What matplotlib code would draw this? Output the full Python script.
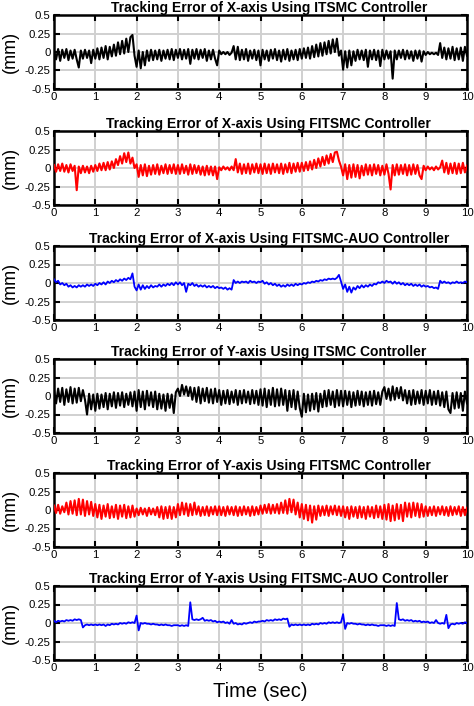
import numpy as np
import matplotlib
matplotlib.use("Agg")
import matplotlib.pyplot as plt

plt.rcParams['font.family'] = ['Liberation Sans', 'DejaVu Sans']

# time base: 0 .. 10 s, step 0.05 s
t = np.linspace(0, 10, 201)

titles = [
    "Tracking Error of X-axis Using ITSMC Controller",
    "Tracking Error of X-axis Using FITSMC Controller",
    "Tracking Error of X-axis Using FITSMC-AUO Controller",
    "Tracking Error of Y-axis Using ITSMC Controller",
    "Tracking Error of Y-axis Using FITSMC Controller",
    "Tracking Error of Y-axis Using FITSMC-AUO Controller",
]
colors = ["black", "red", "blue", "black", "red", "blue"]

ex_itsmc = [
    0.02, -0.10, 0.04, -0.12, 0.03, -0.08, 0.04, -0.11, 0.02, -0.09, 0.03, -0.10, -0.21, 0.02, -0.09, 0.03, -0.08, 0.02, -0.15, 0.03,
    -0.09, 0.05, -0.10, 0.06, -0.08, 0.08, -0.10, 0.07, -0.06, 0.10, -0.05, 0.13, -0.03, 0.15, -0.02, 0.18, 0.00, 0.20, 0.23, -0.05,
    -0.20, 0.02, -0.22, 0.00, -0.18, 0.02, -0.12, 0.03, -0.11, 0.02, -0.10, 0.03, -0.12, 0.02, -0.09, 0.03, -0.10, 0.04, -0.11, 0.03,
    -0.08, 0.04, -0.10, 0.03, -0.09, 0.04, -0.16, 0.03, -0.09, 0.04, -0.10, 0.03, -0.08, 0.04, -0.12, 0.02, -0.10, 0.03, -0.09, -0.18,
    0.02, -0.03, 0.00, -0.03, 0.00, -0.04, -0.01, 0.08, -0.10, 0.07, -0.11, 0.03, -0.10, 0.04, -0.12, 0.02, -0.09, 0.03, -0.11, 0.02,
    -0.18, 0.03, -0.10, 0.02, -0.12, 0.03, -0.09, 0.04, -0.11, 0.02, -0.13, 0.03, -0.10, 0.04, -0.12, 0.02, -0.10, 0.03, -0.11, 0.04,
    -0.09, 0.05, -0.08, 0.06, -0.09, 0.08, -0.07, 0.10, -0.06, 0.12, -0.05, 0.13, -0.03, 0.15, -0.02, 0.17, 0.00, 0.18, -0.05, 0.02,
    -0.24, 0.01, -0.21, 0.02, -0.18, 0.01, -0.12, 0.03, -0.10, 0.02, -0.11, 0.03, -0.20, 0.02, -0.10, 0.03, -0.11, 0.02, -0.19, 0.03,
    -0.10, 0.02, -0.09, 0.01, -0.36, 0.02, -0.10, 0.02, -0.08, 0.03, -0.10, 0.02, -0.09, 0.01, -0.12, 0.02, -0.09, 0.02, -0.13, 0.01,
    -0.04, 0.00, -0.03, -0.01, -0.03, -0.01, -0.04, 0.12, -0.08, 0.06, -0.10, 0.05, -0.09, 0.07, -0.11, 0.05, -0.10, 0.06, -0.12, 0.07,
    -0.05,
]

ex_fitsmc = [
    0.04, -0.05, 0.05, -0.04, 0.06, -0.05, 0.04, -0.06, 0.05, -0.04, 0.03, -0.30, 0.02, -0.07, 0.03, -0.06, 0.02, -0.07, 0.03, -0.05,
    0.04, -0.04, 0.06, -0.03, 0.07, -0.03, 0.08, -0.02, 0.09, 0.00, 0.12, 0.04, 0.16, 0.06, 0.20, 0.08, 0.21, 0.06, 0.14, 0.00,
    0.05, -0.12, 0.04, -0.10, 0.05, -0.11, 0.03, -0.09, 0.04, -0.08, 0.05, -0.09, 0.03, -0.07, 0.05, -0.08, 0.04, -0.07, 0.05, -0.08,
    0.04, -0.08, 0.05, -0.07, 0.03, -0.09, 0.05, -0.08, 0.04, -0.07, 0.03, -0.09, 0.02, -0.10, 0.03, -0.09, 0.02, -0.10, 0.02, -0.15,
    0.01, -0.03, 0.02, -0.02, 0.01, -0.03, 0.02, -0.03, 0.12, -0.06, 0.06, -0.08, 0.05, -0.07, 0.06, -0.08, 0.05, -0.06, 0.06, -0.07,
    0.05, -0.08, 0.06, -0.07, 0.05, -0.08, 0.06, -0.06, 0.05, -0.07, 0.06, -0.08, 0.05, -0.06, 0.07, -0.07, 0.06, -0.05, 0.07, -0.05,
    0.07, -0.04, 0.08, -0.03, 0.09, -0.02, 0.11, 0.00, 0.13, 0.02, 0.15, 0.04, 0.17, 0.06, 0.19, 0.08, 0.21, 0.22, 0.10, 0.02,
    -0.10, 0.05, -0.15, 0.04, -0.13, 0.05, -0.12, 0.04, -0.14, 0.03, -0.10, 0.05, -0.09, 0.04, -0.10, 0.05, -0.08, 0.04, -0.10, 0.03,
    -0.09, 0.05, -0.08, -0.29, 0.04, -0.10, 0.05, -0.09, 0.04, -0.08, 0.05, -0.10, 0.04, -0.09, 0.05, -0.08, 0.04, -0.10, -0.15, 0.03,
    -0.03, 0.02, -0.02, 0.01, -0.03, 0.02, -0.02, 0.01, 0.10, -0.06, 0.07, -0.08, 0.06, -0.07, 0.07, -0.08, 0.06, -0.07, 0.07, -0.06,
    0.03,
]

ex_auo = [
    0.05, 0.01, 0.03, -0.02, 0.00, -0.03, -0.01, -0.05, -0.03, -0.06, -0.04, -0.06, -0.03, -0.05, -0.03, -0.05, -0.02, -0.04, -0.02, -0.04,
    -0.01, -0.03, 0.00, -0.02, 0.01, -0.02, 0.02, 0.00, 0.03, 0.01, 0.04, 0.02, 0.05, 0.03, 0.06, 0.04, 0.07, 0.05, 0.13, -0.05,
    -0.10, -0.02, -0.09, -0.03, -0.08, -0.04, -0.07, -0.03, -0.06, -0.04, -0.05, -0.02, -0.05, -0.02, -0.04, -0.01, -0.03, 0.00, -0.03, 0.01,
    -0.02, 0.01, -0.03, 0.00, -0.12, -0.01, -0.03, 0.00, -0.04, -0.02, -0.05, -0.03, -0.05, -0.03, -0.06, -0.04, -0.06, -0.04, -0.07, -0.05,
    -0.07, -0.06, -0.08, -0.06, -0.09, -0.07, -0.09, 0.04, 0.00, 0.02, 0.00, 0.02, 0.01, 0.02, 0.00, 0.03, 0.01, 0.02, 0.00, 0.02,
    0.01, 0.03, -0.01, 0.01, -0.02, 0.00, -0.03, -0.01, -0.04, -0.02, -0.05, -0.03, -0.05, -0.02, -0.04, -0.02, -0.04, -0.01, -0.03, -0.01,
    -0.02, 0.00, -0.01, 0.01, 0.00, 0.02, 0.01, 0.03, 0.02, 0.04, 0.03, 0.05, 0.04, 0.06, 0.05, 0.06, 0.05, 0.07, 0.11, 0.02,
    -0.08, -0.02, -0.12, -0.05, -0.13, -0.06, -0.09, -0.04, -0.07, -0.03, -0.06, -0.03, -0.05, -0.02, -0.04, -0.01, -0.02, 0.01, 0.00, 0.02,
    0.00, 0.03, 0.01, 0.02, -0.01, 0.02, -0.01, 0.01, -0.02, 0.00, -0.03, -0.01, -0.03, -0.01, -0.04, -0.02, -0.04, -0.02, -0.05, -0.03,
    -0.05, -0.04, -0.06, -0.05, -0.07, -0.06, -0.08, 0.03, 0.00, 0.02, 0.00, 0.01, -0.01, 0.01, 0.00, 0.02, 0.00, 0.01, 0.00, 0.02,
    0.01,
]

ey_itsmc = [
    0.08, -0.10, 0.10, -0.08, 0.11, -0.12, 0.09, -0.08, 0.12, -0.10, 0.10, -0.09, 0.11, -0.07, 0.08, -0.05, -0.25, 0.03, -0.18, 0.02,
    -0.20, 0.03, -0.17, 0.02, -0.15, 0.04, -0.18, 0.03, -0.14, 0.05, -0.16, 0.04, -0.13, 0.05, -0.15, 0.03, -0.12, 0.05, -0.14, 0.06,
    -0.20, 0.08, -0.15, 0.06, -0.18, 0.07, -0.13, 0.05, -0.15, 0.06, -0.18, 0.03, -0.17, 0.02, -0.20, 0.03, -0.16, 0.02, -0.23, 0.05,
    0.10, 0.00, 0.15, 0.02, 0.13, 0.00, 0.12, -0.05, 0.11, -0.08, 0.12, -0.10, 0.10, -0.07, 0.11, -0.09, 0.09, -0.10, 0.10, -0.08,
    0.08, -0.12, 0.07, -0.10, 0.08, -0.11, 0.06, -0.09, 0.08, -0.12, 0.07, -0.10, 0.08, -0.09, 0.06, -0.11, 0.08, -0.10, 0.07, -0.12,
    0.09, -0.13, 0.10, -0.15, 0.08, -0.12, 0.11, -0.14, 0.09, -0.13, 0.10, -0.12, 0.08, -0.20, 0.07, -0.15, 0.08, -0.18, 0.06, -0.16,
    -0.28, 0.03, -0.22, 0.02, -0.20, 0.03, -0.18, 0.04, -0.21, 0.03, -0.15, 0.07, -0.14, 0.08, -0.12, 0.06, -0.15, 0.08, -0.13, 0.07,
    -0.14, 0.07, -0.12, 0.06, -0.15, 0.05, -0.13, 0.07, -0.12, 0.06, -0.14, 0.05, -0.12, 0.06, -0.13, 0.07, -0.11, 0.05, -0.12, 0.06,
    0.12, -0.04, 0.10, -0.06, 0.13, -0.05, 0.11, -0.03, 0.12, -0.06, 0.08, -0.10, 0.07, -0.12, 0.08, -0.11, 0.06, -0.10, 0.08, -0.12,
    0.07, -0.10, 0.08, -0.12, 0.06, -0.11, 0.07, -0.13, 0.05, -0.15, 0.06, -0.18, -0.23, 0.04, -0.17, 0.05, -0.16, 0.04, -0.20, 0.06,
    -0.10,
]

ey_fitsmc = [
    0.06, -0.04, 0.07, -0.05, 0.05, -0.03, 0.10, -0.06, 0.12, -0.05, 0.13, -0.07, 0.15, -0.06, 0.14, -0.08, 0.12, -0.06, 0.11, -0.08,
    0.08, -0.10, 0.07, -0.12, 0.06, -0.09, 0.08, -0.11, 0.05, -0.10, 0.07, -0.12, 0.06, -0.09, 0.07, -0.11, 0.05, -0.10, 0.06, -0.09,
    0.02, -0.07, 0.03, -0.06, 0.02, -0.08, 0.03, -0.06, 0.02, -0.07, 0.04, -0.10, 0.05, -0.12, 0.04, -0.11, 0.05, -0.12, 0.04, -0.10,
    0.08, -0.07, 0.10, -0.06, 0.09, -0.08, 0.08, -0.07, 0.10, -0.06, 0.05, -0.08, 0.04, -0.07, 0.05, -0.08, 0.04, -0.06, 0.05, -0.07,
    0.05, -0.07, 0.04, -0.08, 0.05, -0.06, 0.04, -0.07, 0.05, -0.08, 0.04, -0.07, 0.05, -0.06, 0.04, -0.08, 0.05, -0.07, 0.04, -0.06,
    0.06, -0.05, 0.07, -0.04, 0.08, -0.05, 0.07, -0.04, 0.08, -0.05, 0.10, -0.04, 0.13, -0.05, 0.15, -0.03, 0.14, -0.06, 0.10, -0.10,
    0.08, -0.12, 0.07, -0.14, 0.06, -0.17, 0.05, -0.13, 0.06, -0.08, 0.05, -0.07, 0.06, -0.08, 0.05, -0.06, 0.06, -0.07, 0.05, -0.08,
    0.05, -0.10, 0.04, -0.12, 0.05, -0.09, 0.04, -0.11, 0.05, -0.10, 0.04, -0.12, 0.05, -0.09, 0.04, -0.11, 0.06, -0.10, 0.05, -0.12,
    0.07, -0.13, 0.08, -0.15, 0.06, -0.14, 0.08, -0.12, 0.07, -0.15, 0.10, -0.09, 0.09, -0.10, 0.10, -0.08, 0.09, -0.10, 0.08, -0.09,
    0.05, -0.08, 0.04, -0.07, 0.05, -0.08, 0.04, -0.06, 0.05, -0.07, 0.04, -0.08, 0.05, -0.07, 0.04, -0.06, 0.05, -0.08, 0.04, -0.07,
    0.03,
]

ey_auo = [
    0.03, 0.01, 0.03, 0.02, 0.03, 0.02, 0.04, 0.03, 0.04, 0.03, 0.05, 0.04, 0.05, 0.04, -0.06, -0.03, -0.02, -0.03, -0.02, -0.03,
    -0.02, -0.03, -0.02, -0.03, -0.02, -0.04, -0.02, -0.03, -0.01, -0.02, -0.01, -0.02, 0.00, -0.01, 0.00, -0.01, 0.01, 0.00, 0.01, 0.00,
    0.10, -0.10, 0.00, -0.01, 0.00, -0.01, -0.01, -0.02, -0.01, -0.02, -0.02, -0.03, -0.02, -0.03, -0.02, -0.03, -0.03, -0.04, -0.03, -0.03,
    -0.03, -0.04, -0.03, -0.04, -0.03, -0.04, 0.28, 0.05, 0.04, 0.05, 0.04, 0.05, 0.07, 0.03, 0.04, 0.03, 0.04, 0.02, 0.03, 0.01,
    0.02, 0.01, 0.02, 0.00, 0.01, -0.01, 0.04, -0.01, 0.00, -0.02, -0.01, -0.02, 0.00, -0.01, 0.00, 0.01, 0.00, 0.02, 0.01, 0.02,
    0.02, 0.03, 0.02, 0.04, 0.03, 0.04, 0.03, 0.05, 0.04, 0.05, 0.04, 0.06, 0.05, 0.06, -0.05, -0.02, -0.03, -0.02, -0.03, -0.02,
    -0.03, -0.02, -0.03, -0.02, -0.03, -0.01, -0.02, -0.01, -0.02, 0.00, -0.01, 0.00, -0.01, 0.01, 0.00, 0.01, 0.00, 0.01, 0.00, 0.01,
    0.12, -0.08, 0.00, -0.01, 0.00, -0.01, -0.01, -0.02, -0.01, -0.02, -0.02, -0.03, -0.02, -0.03, -0.02, -0.03, -0.03, -0.04, -0.03, -0.03,
    -0.03, -0.04, -0.03, -0.04, -0.03, -0.04, 0.27, 0.05, 0.04, 0.05, 0.03, 0.04, 0.03, 0.04, 0.02, 0.03, 0.02, 0.03, 0.01, 0.02,
    0.01, 0.02, 0.00, 0.01, 0.00, 0.04, 0.00, -0.01, 0.00, -0.01, 0.11, -0.07, -0.02, -0.01, -0.02, 0.00, -0.01, 0.00, -0.01, 0.01,
    0.00,
]

series = [ex_itsmc, ex_fitsmc, ex_auo, ey_itsmc, ey_fitsmc, ey_auo]

x_ticks = list(range(0, 11))
y_ticks = [-0.5, -0.25, 0, 0.25, 0.5]
y_ticklabels = ["-0.5", "-0.25", "0", "0.25", "0.5"]

W, H = 474, 706
fig = plt.figure(figsize=(W / 100, H / 100), dpi=100)

left_px, right_px = 54, 467
ax_h_px = 74
bottoms_px = [89, 205, 320, 433, 547, 660]

for i, (title, col, y) in enumerate(zip(titles, colors, series)):
    b = bottoms_px[i]
    ax = fig.add_axes([left_px / W, 1 - b / H, (right_px - left_px) / W, ax_h_px / H])
    lw = 1.3 if col == "blue" else 1.5
    ax.plot(t, y, color=col, lw=lw, zorder=3)
    ax.set_xlim(0, 10)
    ax.set_ylim(-0.5, 0.5)
    ax.set_xticks(x_ticks)
    ax.set_yticks(y_ticks)
    ax.set_yticklabels(y_ticklabels)
    ax.grid(True, color="#d0d0d0", lw=1.4, zorder=0)
    ax.set_axisbelow(True)
    for s in ax.spines.values():
        s.set_linewidth(1.8)
        s.set_color("black")
    ax.tick_params(direction="in", length=4, width=1.5, top=True, right=True,
                   labelsize=8.2, pad=2.5, colors="black")
    ax.set_title(title, fontsize=10, fontweight="bold", pad=2.5, x=0.52)
    ax.set_ylabel("(mm)", fontsize=13)
    ax.yaxis.set_label_coords(-0.086, 0.5)

ax.set_xlabel("Time (sec)", fontsize=14.5, labelpad=6)

fig.savefig("out.png", dpi=100)
